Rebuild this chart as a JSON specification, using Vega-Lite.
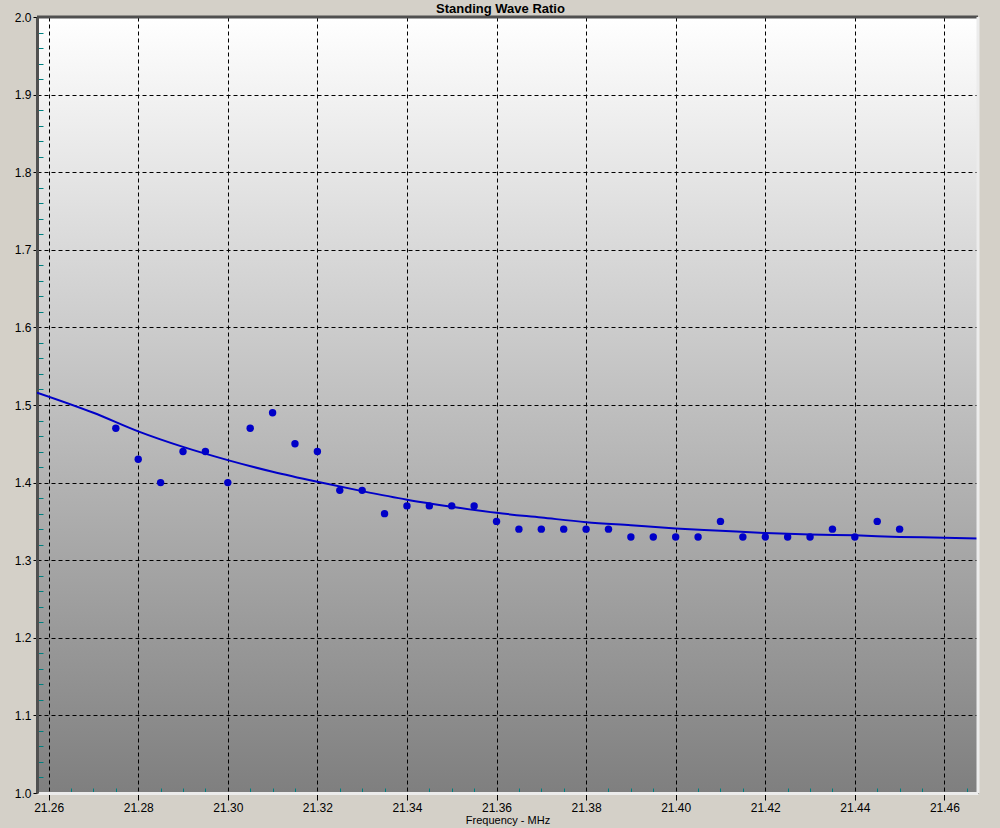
{
  "$schema": "https://vega.github.io/schema/vega-lite/v6.json",
  "width": 941,
  "height": 776,
  "autosize": "none",
  "padding": {"left": 37, "top": 17, "right": 22, "bottom": 35},
  "background": "#d4d0c8",
  "title": {"text": "Standing Wave Ratio", "font": "Liberation Sans", "fontSize": 13, "fontWeight": "bold", "color": "#000000", "anchor": "middle", "offset": 0, "dx": -7, "dy": 5},
  "config": {
    "view": {"stroke": null, "fill": {"gradient": "linear", "x1": 0, "y1": 0, "x2": 0, "y2": 1, "stops": [{"offset": 0, "color": "#ffffff"}, {"offset": 1, "color": "#7f7f7f"}]}},
    "axis": {"labelFont": "Liberation Sans", "labelFontSize": 12, "labelColor": "#000000", "titleFont": "Liberation Sans", "titleFontSize": 11, "titleFontWeight": "normal", "titleColor": "#000000", "gridColor": "#000000", "gridDash": [4, 3], "gridWidth": 1, "labelOverlap": false, "labelFlush": false, "labelBound": false, "tickCount": 200}
  },
  "datasets": {
    "points": [
      {"freq": 21.275, "swr": 1.47}, {"freq": 21.28, "swr": 1.43}, {"freq": 21.285, "swr": 1.40},
      {"freq": 21.29, "swr": 1.44}, {"freq": 21.295, "swr": 1.44}, {"freq": 21.30, "swr": 1.40},
      {"freq": 21.305, "swr": 1.47}, {"freq": 21.31, "swr": 1.49}, {"freq": 21.315, "swr": 1.45},
      {"freq": 21.32, "swr": 1.44}, {"freq": 21.325, "swr": 1.39}, {"freq": 21.33, "swr": 1.39},
      {"freq": 21.335, "swr": 1.36}, {"freq": 21.34, "swr": 1.37}, {"freq": 21.345, "swr": 1.37},
      {"freq": 21.35, "swr": 1.37}, {"freq": 21.355, "swr": 1.37}, {"freq": 21.36, "swr": 1.35},
      {"freq": 21.365, "swr": 1.34}, {"freq": 21.37, "swr": 1.34}, {"freq": 21.375, "swr": 1.34},
      {"freq": 21.38, "swr": 1.34}, {"freq": 21.385, "swr": 1.34}, {"freq": 21.39, "swr": 1.33},
      {"freq": 21.395, "swr": 1.33}, {"freq": 21.40, "swr": 1.33}, {"freq": 21.405, "swr": 1.33},
      {"freq": 21.41, "swr": 1.35}, {"freq": 21.415, "swr": 1.33}, {"freq": 21.42, "swr": 1.33},
      {"freq": 21.425, "swr": 1.33}, {"freq": 21.43, "swr": 1.33}, {"freq": 21.435, "swr": 1.34},
      {"freq": 21.44, "swr": 1.33}, {"freq": 21.445, "swr": 1.35}, {"freq": 21.45, "swr": 1.34}
    ],
    "fit": [
      {"freq": 21.2574, "swr": 1.516}, {"freq": 21.27, "swr": 1.490}, {"freq": 21.28, "swr": 1.466},
      {"freq": 21.29, "swr": 1.446}, {"freq": 21.30, "swr": 1.429}, {"freq": 21.31, "swr": 1.414},
      {"freq": 21.32, "swr": 1.401}, {"freq": 21.33, "swr": 1.389}, {"freq": 21.34, "swr": 1.378},
      {"freq": 21.35, "swr": 1.369}, {"freq": 21.36, "swr": 1.361}, {"freq": 21.37, "swr": 1.355},
      {"freq": 21.38, "swr": 1.349}, {"freq": 21.39, "swr": 1.345}, {"freq": 21.40, "swr": 1.341},
      {"freq": 21.41, "swr": 1.338}, {"freq": 21.42, "swr": 1.335}, {"freq": 21.43, "swr": 1.333},
      {"freq": 21.44, "swr": 1.332}, {"freq": 21.45, "swr": 1.330}, {"freq": 21.46, "swr": 1.329},
      {"freq": 21.4675, "swr": 1.328}
    ],
    "frame": [{"top": 2.0, "right": 21.4675}]
  },
  "layer": [
    {
      "data": {"name": "fit"},
      "mark": {"type": "line", "color": "#0000c8", "strokeWidth": 2, "interpolate": "monotone", "clip": true},
      "encoding": {
        "x": {"field": "freq", "type": "quantitative", "scale": {"domain": [21.2574, 21.4675], "nice": false, "zero": false},
          "axis": {
            "title": "Frequency - MHz",
            "tickCount": 200,
            "values": [21.26, 21.265, 21.27, 21.275, 21.28, 21.285, 21.29, 21.295, 21.30, 21.305, 21.31, 21.315, 21.32, 21.325, 21.33, 21.335, 21.34, 21.345, 21.35, 21.355, 21.36, 21.365, 21.37, 21.375, 21.38, 21.385, 21.39, 21.395, 21.40, 21.405, 21.41, 21.415, 21.42, 21.425, 21.43, 21.435, 21.44, 21.445, 21.45, 21.455, 21.46, 21.465],
            "labelExpr": "abs(datum.value*50 - round(datum.value*50)) < 0.01 ? format(datum.value, '.2f') : ''",
            "domainColor": "#ececec", "domainWidth": 3,
            "tickColor": {"condition": {"test": "abs(datum.value*50 - round(datum.value*50)) > 0.01", "value": "#008080"}, "value": "#000000"},
            "tickSize": {"condition": {"test": "abs(datum.value*50 - round(datum.value*50)) > 0.01", "value": -5}, "value": 7},
            "gridOpacity": {"condition": {"test": "abs(datum.value*50 - round(datum.value*50)) > 0.01", "value": 0}, "value": 1},
            "labelPadding": 2, "titlePadding": 1
          }},
        "y": {"field": "swr", "type": "quantitative", "scale": {"domain": [1.0, 2.0], "nice": false, "zero": false},
          "axis": {
            "title": null,
            "tickCount": 200,
            "values": [1.0, 1.02, 1.04, 1.06, 1.08, 1.1, 1.12, 1.14, 1.16, 1.18, 1.2, 1.22, 1.24, 1.26, 1.28, 1.3, 1.32, 1.34, 1.36, 1.38, 1.4, 1.42, 1.44, 1.46, 1.48, 1.5, 1.52, 1.54, 1.56, 1.58, 1.6, 1.62, 1.64, 1.66, 1.68, 1.7, 1.72, 1.74, 1.76, 1.78, 1.8, 1.82, 1.84, 1.86, 1.88, 1.9, 1.92, 1.94, 1.96, 1.98, 2.0],
            "labelExpr": "abs(datum.value*10 - round(datum.value*10)) < 0.01 ? format(datum.value, '.1f') : ''",
            "domainColor": "#505050", "domainWidth": 3,
            "tickColor": {"condition": {"test": "abs(datum.value*10 - round(datum.value*10)) > 0.01", "value": "#008080"}, "value": "#000000"},
            "tickSize": {"condition": {"test": "abs(datum.value*10 - round(datum.value*10)) > 0.01", "value": -6}, "value": 4},
            "gridOpacity": {"condition": {"test": "abs(datum.value*10 - round(datum.value*10)) > 0.01", "value": 0}, "value": 1},
            "labelPadding": 2
          }}
      }
    },
    {
      "data": {"name": "points"},
      "mark": {"type": "circle", "color": "#0000c8", "size": 55, "opacity": 1},
      "encoding": {
        "x": {"field": "freq", "type": "quantitative"},
        "y": {"field": "swr", "type": "quantitative"}
      }
    },
    {
      "data": {"name": "frame"},
      "mark": {"type": "rule", "color": "#505050", "strokeWidth": 3},
      "encoding": {"y": {"field": "top", "type": "quantitative"}}
    },
    {
      "data": {"name": "frame"},
      "mark": {"type": "rule", "color": "#ececec", "strokeWidth": 3},
      "encoding": {"x": {"field": "right", "type": "quantitative"}}
    }
  ]
}
